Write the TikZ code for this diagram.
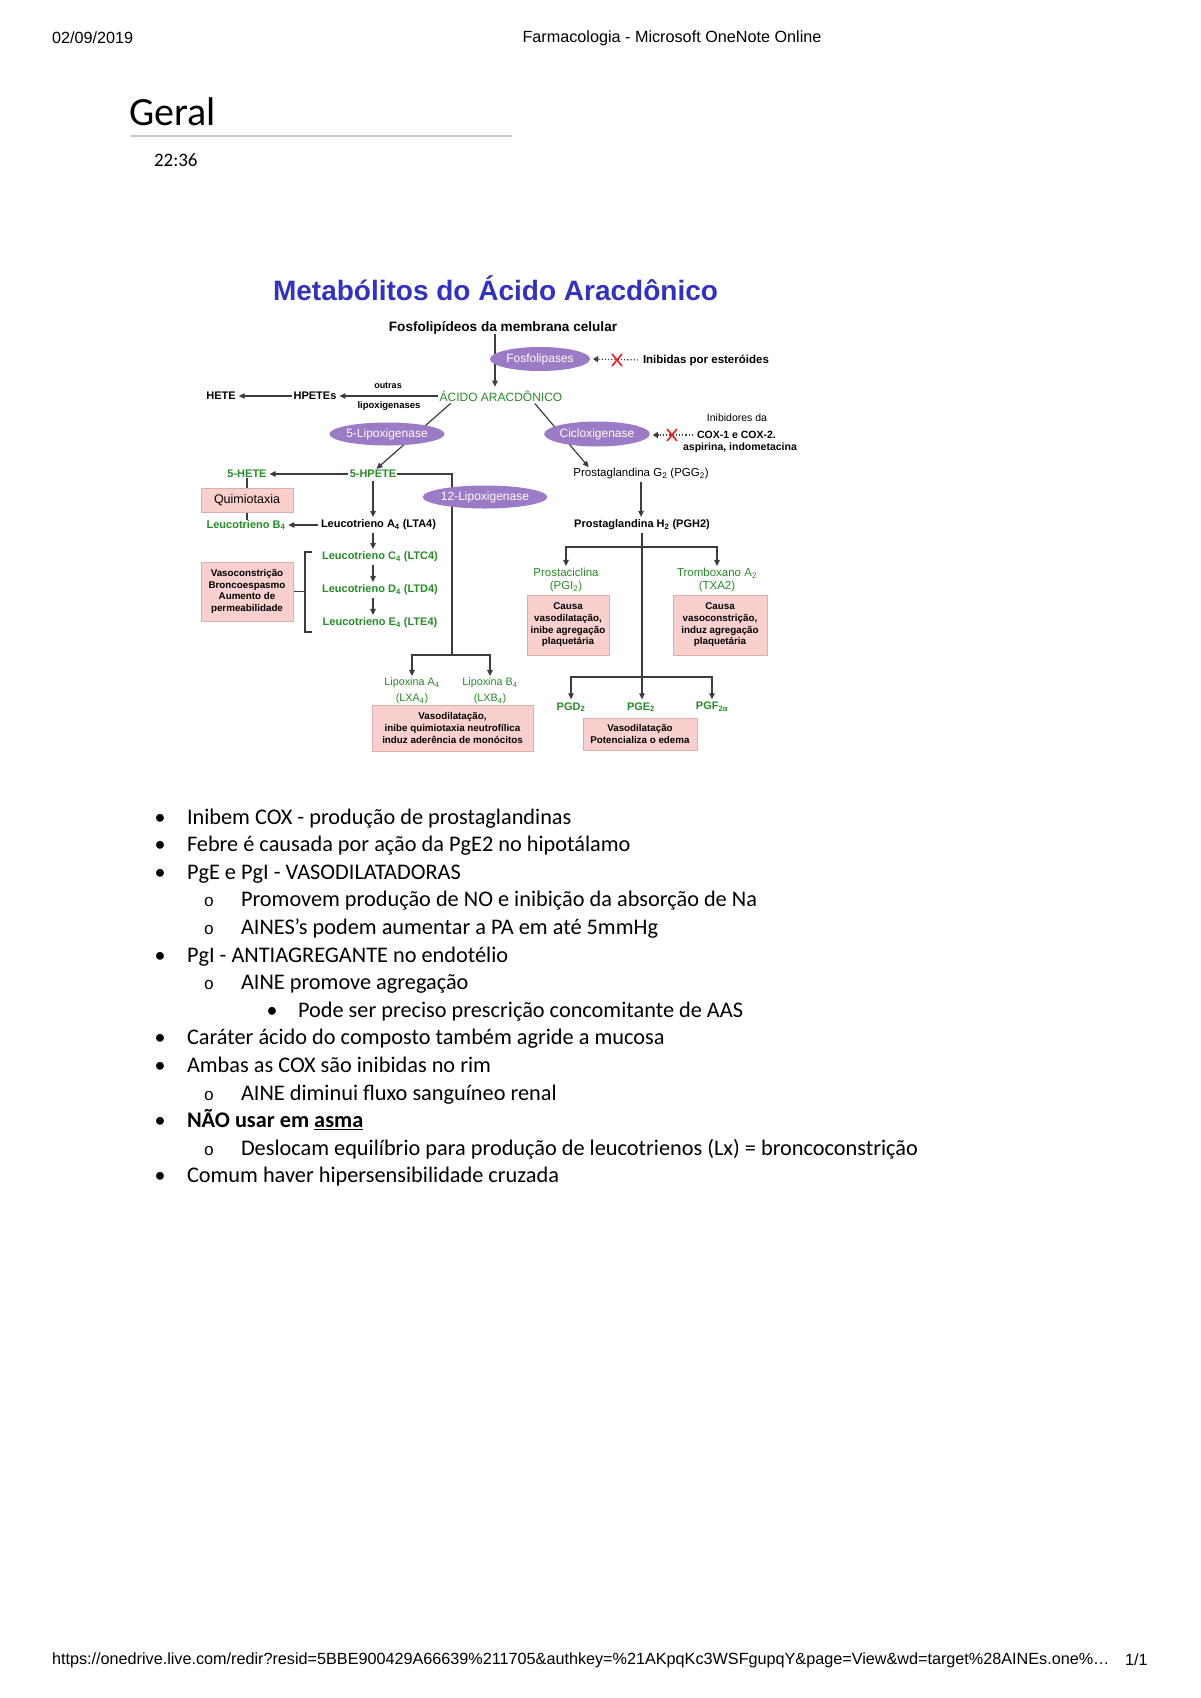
\documentclass[tikz,border=0pt]{standalone}
\usepackage{fontspec}
\setmainfont{Carlito}
\newfontfamily\arial{Liberation Sans}
\newfontfamily\amono{Liberation Mono}
\usetikzlibrary{shapes.geometric,arrows.meta}
\newcommand\myfs[2]{\fontsize{#1}{#2}\selectfont}
\definecolor{grn}{RGB}{40,140,40}
\definecolor{purp}{RGB}{155,122,198}
\definecolor{pinkfill}{RGB}{250,208,206}
\definecolor{pinkdraw}{RGB}{225,172,172}
\definecolor{ttl}{RGB}{50,50,190}
\definecolor{arr}{RGB}{60,60,60}
\definecolor{xred}{RGB}{235,40,40}
\definecolor{rulegray}{RGB}{200,200,200}
\pgfdeclarelayer{back}
\pgfdeclarelayer{bg}
\pgfsetlayers{back,bg,main}
\begin{document}
\begin{tikzpicture}[x=1pt,y=-1pt,
  every node/.style={inner sep=0pt, outer sep=0pt},
  lb/.style={font=\arial\bfseries\myfs{11}{13}},
  lr/.style={font=\arial\myfs{11.5}{13}},
  gb/.style={lb,text=grn},
  gr/.style={font=\arial\myfs{11.5}{13.5},text=grn,align=center},
  gl/.style={font=\arial\myfs{10.8}{16},text=grn,align=center},
  ib/.style={font=\arial\bfseries\myfs{10.5}{12}},
  enz/.style={ellipse, fill=purp, font=\arial\myfs{12}{14}, text=white},
  pbox/.style={rectangle, fill=pinkfill, draw=pinkdraw, line width=0.8pt, align=center, font=\arial\bfseries\myfs{9.8}{11.7}},
  con/.style={draw=arr, line width=1.2pt},
  arw/.style={con, -{Triangle[length=6pt,width=5.5pt]}},
  inh/.style={draw=arr, line width=1.2pt, dotted, -{Triangle[length=5pt,width=6pt]}},
  xmk/.style={draw=xred, line width=1.7pt},
  hdr/.style={font=\arial\myfs{16.2}{19}},
  txt/.style={anchor=base west, font=\myfs{22.3}{26}},
  bul/.style={anchor=base, font=\myfs{22}{26}},
  sbul/.style={anchor=base, font=\amono\myfs{17}{20}},
]
\useasboundingbox (0,0) rectangle (1200,1698);
\begin{pgfonlayer}{back}
\fill[white] (0,0) rectangle (1200,1698);
\end{pgfonlayer}

% ---------- page header ----------
\node[hdr, anchor=west] (date) at (52,38) {02/09/2019};
\node[hdr] (pagetitle) at (672,38) {Farmacologia - Microsoft OneNote Online};
\node[anchor=base west, font=\myfs{40}{46}] (geral) at (129,125) {Geral};
\coordinate (ruleL) at (131,136);
\coordinate (ruleR) at (512,136);
\draw[rulegray, line width=2.5pt] (ruleL) -- (ruleR);
\node[anchor=base west, font=\myfs{19}{22}] (time) at (154,166) {22:36};

% ---------- diagram ----------
\node[font=\arial\bfseries\myfs{28}{32}, text=ttl] (title) at (495.5,288) {Metabólitos do Ácido Aracdônico};
\node[font=\arial\bfseries\myfs{13.6}{15}] (fosfo) at (503,328) {Fosfolipídeos da membrana celular};
\node[enz, minimum width=100pt, minimum height=24pt] (fosfolip) at (540,359) {Fosfolipases};
\node[lb, anchor=west, font=\arial\bfseries\myfs{11.5}{13}] (inibst) at (643,360) {Inibidas por esteróides};
\coordinate (x1) at (617,360);
\node[lr, text=grn, font=\arial\myfs{12}{14}] (acido) at (501,396) {ÁCIDO ARACDÔNICO};
\node[lb] (hpetes) at (315,396) {HPETEs};
\node[lb] (hete) at (221,396) {HETE};
\node[font=\arial\bfseries\myfs{9}{10}] (outras) at (388,386) {outras};
\node[font=\arial\bfseries\myfs{9.5}{10}] (lipoxs) at (389,406) {lipoxigenases};
\node[enz, minimum width=100pt, minimum height=23pt] (lox5) at (387,434) {5-Lipoxigenase};
\node[enz, minimum width=100pt, minimum height=25pt] (cox) at (597,434) {Cicloxigenase};
\coordinate (x2) at (672,435);
\node[ib, font=\arial\myfs{10.5}{12}] (inib1) at (737,418) {Inibidores da};
\node[ib, anchor=west] (inib2) at (697,435) {COX-1 e COX-2.};
\node[ib] (inib3) at (740,448) {aspirina, indometacina};

\node[gb] (hete5) at (247,474) {5-HETE};
\node[gb] (hpete5) at (373,474) {5-HPETE};
\node[enz, minimum width=106pt, minimum height=23pt] (lox12) at (485,497) {12-Lipoxigenase};
\node[pbox, minimum width=92pt, minimum height=24pt, font=\arial\myfs{12.5}{14}] (quimio) at (247,500) {Quimiotaxia};
\node[gb] (ltb4) at (246,525) {Leucotrieno B\textsubscript{4}};
\node[lb] (lta4) at (378.5,525) {Leucotrieno A\textsubscript{4} (LTA4)};
\node[gb] (ltc4) at (380,557) {Leucotrieno C\textsubscript{4} (LTC4)};
\node[gb] (ltd4) at (380,590) {Leucotrieno D\textsubscript{4} (LTD4)};
\node[gb] (lte4) at (380,623) {Leucotrieno E\textsubscript{4} (LTE4)};
\node[pbox, minimum width=92pt, minimum height=59pt] (vaso) at (247,591.5) {Vasoconstrição\\Broncoespasmo\\Aumento de\\permeabilidade};

\node[lr] (pgg) at (641,474) {Prostaglandina G\textsubscript{2} (PGG\textsubscript{2})};
\node[lb] (pgh) at (642,525) {Prostaglandina H\textsubscript{2} (PGH2)};
\node[gr] (pgi) at (566,580) {Prostaciclina\\(PGI\textsubscript{2})};
\node[gr] (txa) at (717,580) {Tromboxano A\textsubscript{2}\\(TXA2)};
\node[pbox, minimum width=82pt, minimum height=60pt] (pgibox) at (568,625) {Causa\\vasodilatação,\\inibe agregação\\plaquetária};
\node[pbox, minimum width=94pt, minimum height=60pt] (txabox) at (720,625) {Causa\\vasoconstrição,\\induz agregação\\plaquetária};
\node[gb] (pgd) at (571,707) {PGD\textsubscript{2}};
\node[gb] (pge) at (641,707) {PGE\textsubscript{2}};
\node[gb] (pgf) at (712,707) {PGF\textsubscript{2α}};
\node[pbox, minimum width=114pt, minimum height=32pt] (pgebox) at (640,734) {Vasodilatação\\Potencializa o edema};
\node[gl] (lxa) at (412,691) {Lipoxina A\textsubscript{4}\\(LXA\textsubscript{4})};
\node[gl] (lxb) at (490,691) {Lipoxina B\textsubscript{4}\\(LXB\textsubscript{4})};
\node[pbox, minimum width=161pt, minimum height=46pt] (lxbox) at (452.5,728) {Vasodilatação,\\inibe quimiotaxia neutrofílica\\induz aderência de monócitos};

\coordinate (lxsplit) at (452,655);
\coordinate (pgsplit1) at (642,547);
\coordinate (pgsplit2) at (642,677);
\coordinate (brT) at (312,552);
\coordinate (brTL) at (305,552);
\coordinate (brBL) at (305,632);
\coordinate (brB) at (312,632);

\begin{pgfonlayer}{bg}
\draw[arw, shorten >=4pt] ([xshift=-8pt]fosfo.south) -- ([xshift=-6pt]acido.north);
\draw[arw, shorten <=2pt, shorten >=3pt] (acido.west) -- (hpetes.east);
\draw[arw, shorten <=2pt, shorten >=3pt] (hpetes.west) -- (hete.east);
\draw[arw, shorten <=3pt, shorten >=2pt] ([xshift=-48pt]acido.south) -- ([xshift=2pt]hpete5.north);
\draw[arw, shorten <=3pt, shorten >=2pt] ([xshift=32pt]acido.south) -- ([xshift=-51pt]pgg.north);
\draw[inh, shorten <=5pt, shorten >=3pt] (inibst.west) -- (fosfolip.east);
\draw[inh, shorten <=4pt, shorten >=3pt] (inib2.west) -- (inib2.west -| cox.east);
\draw[arw, shorten <=2pt, shorten >=3pt] (hpete5.west) -- (hete5.east);
\draw[con, shorten <=1pt] (hpete5.east) -| (lxsplit);
\draw[arw, shorten >=2pt] (lxsplit) -| (lxa.north);
\draw[arw, shorten >=2pt] (lxsplit) -| (lxb.north);
\draw[con] (hete5.south) -- (quimio.north);
\draw[con] (quimio.south) -- (quimio.south |- ltb4.north);
\draw[arw, shorten <=3pt, shorten >=3pt] (hpete5.south) -- (hpete5.south |- lta4.north);
\draw[arw, shorten <=3pt, shorten >=3pt] (lta4.west) -- (ltb4.east);
\draw[arw, shorten <=3pt, shorten >=3pt] (lta4.south -| hpete5.south) -- (ltc4.north -| hpete5.south);
\draw[arw, shorten <=3pt, shorten >=3pt] (ltc4.south -| hpete5.south) -- (ltd4.north -| hpete5.south);
\draw[arw, shorten <=3pt, shorten >=3pt] (ltd4.south -| hpete5.south) -- (lte4.north -| hpete5.south);
\draw[con] (brT) -- (brTL) -- (brBL) -- (brB);
\draw[con] (vaso.east) -- (vaso.east -| brTL);
\draw[arw, shorten <=3pt, shorten >=3pt] (pgg.south) -- (pgg.south |- pgh.north);
\draw[arw, shorten <=3pt, shorten >=3pt] (pgh.south) -- (pgh.south |- pge.north);
\draw[arw, shorten >=2pt] (pgsplit1) -| (pgi.north);
\draw[arw, shorten >=2pt] (pgsplit1) -| (txa.north);
\draw[arw, shorten >=3pt] (pgsplit2) -| (pgd.north);
\draw[arw, shorten >=3pt] (pgsplit2) -| (pgf.north);
\end{pgfonlayer}
\draw[xmk] ([shift={(-5,-6)}]x1) -- ([shift={(5,6)}]x1);
\draw[xmk] ([shift={(-5,6)}]x1) -- ([shift={(5,-6)}]x1);
\draw[xmk] ([shift={(-5,-6)}]x2) -- ([shift={(5,6)}]x2);
\draw[xmk] ([shift={(-5,6)}]x2) -- ([shift={(5,-6)}]x2);

% ---------- notes ----------
\node[bul] (b1) at (160,824) {•};
\node[txt] (t1) at (187,824) {Inibem COX - produção de prostaglandinas};
\node[bul] (b2) at (160,851.6) {•};
\node[txt] (t2) at (187,851.6) {Febre é causada por ação da PgE2 no hipotálamo};
\node[bul] (b3) at (160,879.2) {•};
\node[txt] (t3) at (187,879.2) {PgE e PgI - VASODILATADORAS};
\node[sbul] (b4) at (209,906.8) {o};
\node[txt] (t4) at (241,906.8) {Promovem produção de NO e inibição da absorção de Na};
\node[sbul] (b5) at (209,934.4) {o};
\node[txt] (t5) at (241,934.4) {AINES's podem aumentar a PA em até 5mmHg};
\node[bul] (b6) at (160,962) {•};
\node[txt] (t6) at (187,962) {PgI - ANTIAGREGANTE no endotélio};
\node[sbul] (b7) at (209,989.6) {o};
\node[txt] (t7) at (241,989.6) {AINE promove agregação};
\node[bul] (b8) at (272,1017.2) {•};
\node[txt] (t8) at (298,1017.2) {Pode ser preciso prescrição concomitante de AAS};
\node[bul] (b9) at (160,1044.8) {•};
\node[txt] (t9) at (187,1044.8) {Caráter ácido do composto também agride a mucosa};
\node[bul] (b10) at (160,1072.4) {•};
\node[txt] (t10) at (187,1072.4) {Ambas as COX são inibidas no rim};
\node[sbul] (b11) at (209,1100) {o};
\node[txt] (t11) at (241,1100) {AINE diminui fluxo sanguíneo renal};
\node[bul] (b12) at (160,1127.6) {•};
\node[txt, font=\bfseries\myfs{22.3}{26}] (t12) at (187,1127.6) {NÃO usar em \underline{asma}};
\node[sbul] (b13) at (209,1155.2) {o};
\node[txt] (t13) at (241,1155.2) {Deslocam equilíbrio para produção de leucotrienos (Lx) = broncoconstrição};
\node[bul] (b14) at (160,1182.8) {•};
\node[txt] (t14) at (187,1182.8) {Comum haver hipersensibilidade cruzada};

% ---------- footer ----------
\node[hdr, anchor=west] (url) at (52,1660) {https://onedrive.live.com/redir?resid=5BBE900429A66639\%211705\&authkey=\%21AKpqKc3WSFgupqY\&page=View\&wd=target\%28AINEs.one\%…};
\node[hdr, anchor=west] (pagenum) at (1125,1660) {1/1};
\end{tikzpicture}
\end{document}
